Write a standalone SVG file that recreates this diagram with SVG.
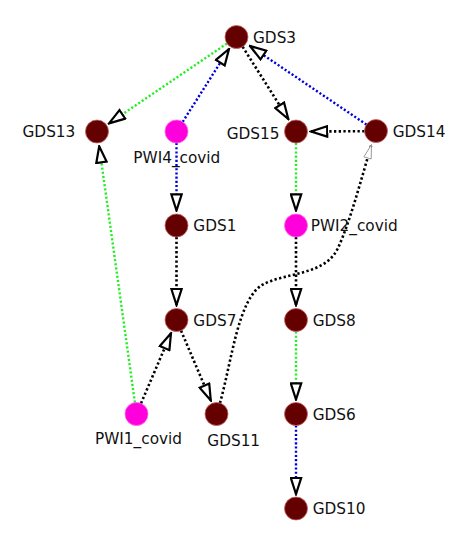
<svg xmlns="http://www.w3.org/2000/svg" width="474" height="551" viewBox="0 0 474 551">
<style>
  .edge { fill: none; stroke-width: 2.4; stroke-dasharray: 2.1 2.1; }
  .blk { stroke: #000000; stroke-width: 2.6; stroke-dasharray: 2.3 2.4; }
  .grn { stroke: #22ee22; }
  .blu { stroke: #0000dd; }
  .arr { marker-end: url(#tri); }
  .gds { fill: #650000; stroke: #c46a6a; stroke-width: 0.8; }
  .pwi { fill: #ff00dd; stroke: #ff66ee; stroke-width: 0.8; }
  text { font-family: "DejaVu Sans", Verdana, sans-serif; font-size: 15.3px; fill: #111111; }
</style>
<defs>
  <marker id="tri" markerUnits="userSpaceOnUse" viewBox="0 0 19 13" markerWidth="19" markerHeight="13" refX="17.5" refY="6.5" orient="auto">
    <path d="M1.3,1.3 L17.5,6.5 L1.3,11.7 Z" fill="#ffffff" stroke="#000000" stroke-width="2.2" stroke-linejoin="miter"/>
  </marker>
  <marker id="trig" markerUnits="userSpaceOnUse" viewBox="0 0 16 10" markerWidth="16" markerHeight="10" refX="15" refY="5" orient="auto">
    <path d="M1,1.2 L15,5 L1,8.8 Z" fill="#ffffff" stroke="#999999" stroke-width="0.9"/>
  </marker>
</defs>
<rect x="0" y="0" width="474" height="551" fill="#ffffff"/>
<g id="connectors">
  <line class="edge grn arr" x1="227" y1="43.5" x2="109" y2="123.4"/>
  <line class="edge blu arr" x1="182.7" y1="121.8" x2="229" y2="49"/>
  <line class="edge blk arr" x1="242.6" y1="46.7" x2="288.3" y2="119"/>
  <line class="edge blu arr" x1="366.5" y1="124.6" x2="250" y2="46"/>
  <line class="edge blk arr" x1="364.5" y1="131.2" x2="311" y2="131.5"/>
  <line class="edge blu arr" x1="176.5" y1="143" x2="176.5" y2="210.5"/>
  <line class="edge grn arr" x1="296" y1="143" x2="296" y2="210.5"/>
  <line class="edge blk arr" x1="176.5" y1="237" x2="176.5" y2="305"/>
  <line class="edge blk arr" x1="296" y1="237" x2="296" y2="305"/>
  <line class="edge grn arr" x1="134.9" y1="402.6" x2="99.2" y2="146.3"/>
  <line class="edge blk arr" x1="141" y1="403.4" x2="171" y2="333.2"/>
  <line class="edge blk arr" x1="181" y1="330.6" x2="210.8" y2="400.5"/>
  <path class="edge blk" d="M220,403 C232,360 238,300 262,285 C285,272 325,276 338,248 C350,222 361,180 371.5,144.5" marker-end="url(#trig)"/>
  <line class="edge grn arr" x1="296" y1="331.5" x2="296" y2="399.5"/>
  <line class="edge blu arr" x1="296" y1="425.5" x2="296" y2="494"/>
</g>
<g id="GDS3"><circle class="gds" cx="236.5" cy="37" r="11.5"/><text x="253" y="43">GDS3</text></g>
<g id="GDS13"><circle class="gds" cx="97" cy="131.5" r="11.5"/><text x="22.5" y="137">GDS13</text></g>
<g id="PWI4_covid"><circle class="pwi" cx="176.5" cy="131.5" r="11.5"/><text x="133.3" y="162.5">PWI4_covid</text></g>
<g id="GDS15"><circle class="gds" cx="296" cy="131.5" r="11.5"/><text x="226.7" y="139.3">GDS15</text></g>
<g id="GDS14"><circle class="gds" cx="376" cy="131" r="11.5"/><text x="392.7" y="137">GDS14</text></g>
<g id="GDS1"><circle class="gds" cx="176.5" cy="225.5" r="11.5"/><text x="193.3" y="231">GDS1</text></g>
<g id="PWI2_covid"><circle class="pwi" cx="296" cy="225.5" r="11.5"/><text x="310.7" y="231">PWI2_covid</text></g>
<g id="GDS7"><circle class="gds" cx="176.5" cy="320" r="11.5"/><text x="193.3" y="326">GDS7</text></g>
<g id="GDS8"><circle class="gds" cx="296" cy="320" r="11.5"/><text x="312.7" y="326">GDS8</text></g>
<g id="PWI1_covid"><circle class="pwi" cx="136.5" cy="414" r="11.5"/><text x="95" y="443.5">PWI1_covid</text></g>
<g id="GDS11"><circle class="gds" cx="216.5" cy="414" r="11.5"/><text x="207.3" y="446">GDS11</text></g>
<g id="GDS6"><circle class="gds" cx="296" cy="414" r="11.5"/><text x="312.7" y="420">GDS6</text></g>
<g id="GDS10"><circle class="gds" cx="296" cy="508.5" r="11.5"/><text x="312.7" y="514">GDS10</text></g>
</svg>
